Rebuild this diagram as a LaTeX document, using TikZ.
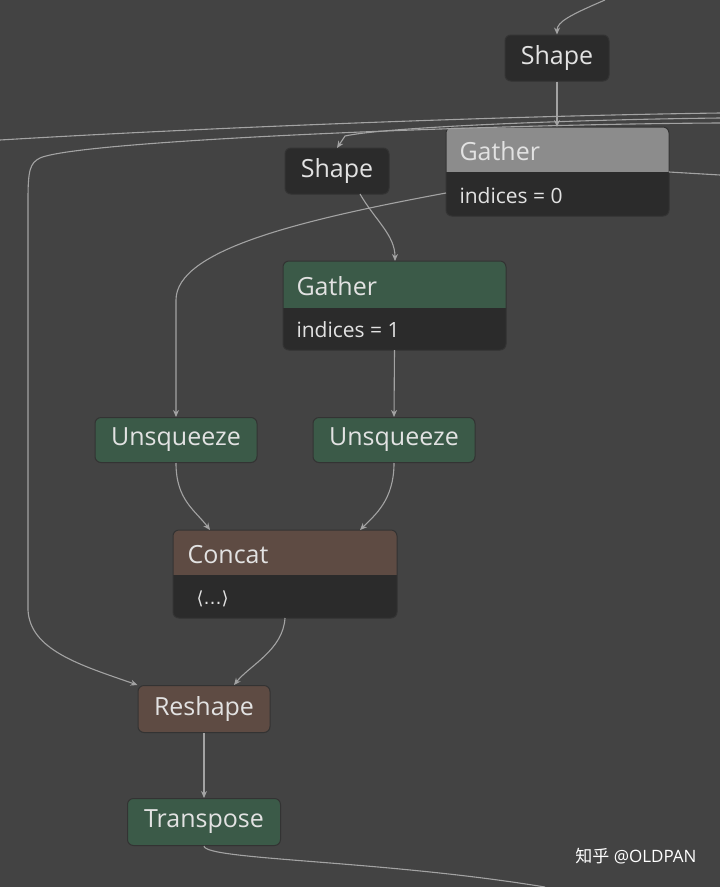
\documentclass[tikz,border=0pt]{standalone}
\usepackage{fontspec}
\setmainfont{Open Sans}
\newfontfamily\cjk{Noto Sans CJK SC}
\newfontfamily\djvfont{DejaVu Sans}
\usetikzlibrary{arrows.meta}
\definecolor{bg}{HTML}{434343}
\definecolor{ln}{HTML}{A3A3A3}
\definecolor{tx}{HTML}{E2E2E2}
\definecolor{dk}{HTML}{2B2B2B}
\definecolor{gr}{HTML}{3B5A48}
\definecolor{br}{HTML}{5E4B43}
\definecolor{hg}{HTML}{8C8C8C}
\begin{document}
\begin{tikzpicture}[x=1pt,y=-1pt,
  op/.style={draw=black!80,line width=1pt,rounded corners=6pt,text=tx,font=\fontsize{25}{29}\selectfont,inner sep=0pt},
  hdr/.style={text=tx,font=\fontsize{25}{29}\selectfont,anchor=west},
  att/.style={text=tx,font=\fontsize{21}{25}\selectfont,anchor=west},
  e/.style={draw=ln,line width=1.1pt},
  a/.style={e,-{Stealth[length=7pt,width=6pt]}}]
\fill[bg] (0,0) rectangle (720,887);
\useasboundingbox (0,0) rectangle (720,887);
% simple nodes
\node[op,fill=dk,minimum width=104pt,minimum height=46pt] (s1) at (557,58) {Shape};
\node[op,fill=dk,minimum width=104pt,minimum height=46pt] (s2) at (337,171) {Shape};
\node[op,fill=gr,minimum width=162pt,minimum height=45pt] (u1) at (176,440) {Unsqueeze};
\node[op,fill=gr,minimum width=162pt,minimum height=45pt] (u2) at (394,440) {Unsqueeze};
\node[op,fill=br,minimum width=132pt,minimum height=47pt] (rs) at (204,709) {Reshape};
\node[op,fill=gr,minimum width=153pt,minimum height=47pt] (tp) at (204,822) {Transpose};
% two-part nodes
\begin{scope}
\path[fill=dk,rounded corners=6pt] (446,127) rectangle (669,216);
\path[fill=hg,rounded corners=6pt] (446,127) rectangle (669,178);
\fill[dk] (446,172) rectangle (669,180);
\draw[black!80,line width=1pt,rounded corners=6pt] (446,127) rectangle (669,216);
\node (g0) at (557.5,171.5) [minimum width=223pt,minimum height=89pt,inner sep=0pt] {};
\node[hdr] (g0h) at (456,151) {Gather};
\node[att] (g0a) at (456,196) {indices = 0};
\end{scope}
\begin{scope}
\path[fill=dk,rounded corners=6pt] (283,261) rectangle (506,350);
\path[fill=gr,rounded corners=6pt] (283,261) rectangle (506,314);
\fill[dk] (283,308) rectangle (506,316);
\draw[black!80,line width=1pt,rounded corners=6pt] (283,261) rectangle (506,350);
\node (g1) at (394.5,305.5) [minimum width=223pt,minimum height=89pt,inner sep=0pt] {};
\node[hdr] (g1h) at (293,286) {Gather};
\node[att] (g1a) at (293,330) {indices = 1};
\end{scope}
\begin{scope}
\path[fill=dk,rounded corners=6pt] (173,530) rectangle (397,618);
\path[fill=br,rounded corners=6pt] (173,530) rectangle (397,581);
\fill[dk] (173,575) rectangle (397,583);
\draw[black!80,line width=1pt,rounded corners=6pt] (173,530) rectangle (397,618);
\node (cc) at (285,574) [minimum width=224pt,minimum height=88pt,inner sep=0pt] {};
\node[hdr] (cch) at (184,555) {Concat};
\node[att] (cca) at (193,599) {{\djvfont\fontsize{18}{22}\selectfont ⟨…⟩}};
\end{scope}
% free ends
\coordinate (t0) at (605,0);
\coordinate (r1) at (720,113);
\coordinate (r2) at (720,118);
\coordinate (r3) at (720,123);
\coordinate (r4) at (720,175);
\coordinate (l1) at (0,140);
\coordinate (bo) at (545,887);
% edges
\draw[a] (t0) .. controls (570,15) and (557,22) .. (s1.north);
\draw[a] (s1.south) -- (557,127);
\draw[e] (l1) .. controls (200,128) and (500,116) .. (r1);
\draw[a] (r2) .. controls (550,120) and (380,128) .. (345,136) -- (337,148);
\draw[a] (r3) .. controls (500,124) and (80,140) .. (40,158) .. controls (30,163) and (28,170) .. (28,200)
  -- (28,610) .. controls (30,650) and (80,665) .. (rs.north west);
\draw[e] (669,172) -- (r4);
\draw[a] (446,193) .. controls (300,220) and (176,250) .. (176,300) -- (u1.north);
\draw[a] (360,194) .. controls (375,220) and (395,235) .. (395,261);
\draw[a] (g1.south) -- (u2.north);
\draw[a] (u1.south) .. controls (176,500) and (195,510) .. (210,530);
\draw[a] (u2.south) .. controls (394,500) and (375,515) .. (360,530);
\draw[a] (285,618) .. controls (283,650) and (250,665) .. (234,685);
\draw[a] (rs.south) -- (tp.north);
\draw[e] (tp.south) .. controls (205,860) and (380,860) .. (bo);
\node[text=white,font=\fontsize{17}{20}\selectfont,anchor=east] (wm) at (700,856) {{\cjk 知乎} @OLDPAN};
\end{tikzpicture}
\end{document}
